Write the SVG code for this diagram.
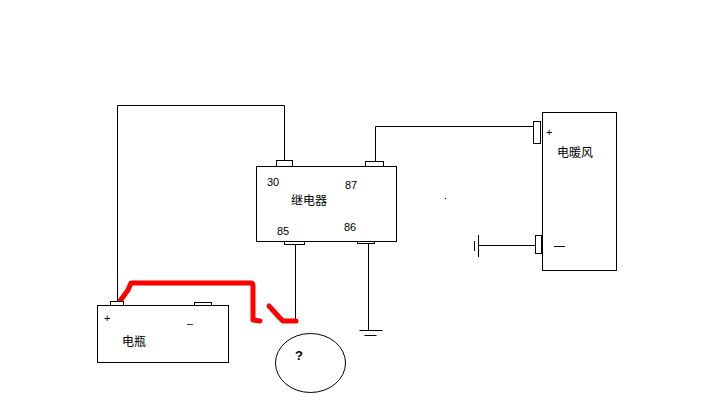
<svg xmlns="http://www.w3.org/2000/svg" width="717" height="418" viewBox="0 0 717 418">
<style>
.b{fill:#fff;stroke:#000;stroke-width:1}
.w{fill:none;stroke:#000;stroke-width:1}
.r{fill:none;stroke:#f00;stroke-width:5;stroke-linecap:round;stroke-linejoin:round}
text{font-family:"Liberation Sans","Noto Sans CJK SC",sans-serif;fill:#000}
.t{font-size:11px}
.c{font-size:12px;font-family:"Noto Sans CJK SC","Liberation Sans",sans-serif}
</style>
<rect width="717" height="418" fill="#fff"/>
<g id="connectors">
<path class="w" d="M117.500 302V105.500H284.500V160"/>
<path class="w" d="M375.500 161V126.500H533"/>
<path class="w" d="M295.500 245V321"/>
<path class="w" d="M368.500 243V330.500"/>
<path class="w" d="M359.500 330.500H382.500M364.500 335.500H376.500"/>
<path class="w" d="M535 245.500H478.500M478.500 235V257M474.500 241V251"/>
<path class="r" d="M120 301L128 290L131 283H251Q253 283 253 286V320L260 321"/>
<path class="r" d="M269 306L279 317L283 321H296"/>
</g>
<g id="battery">
<rect class="b" x="97.500" y="305.500" width="131" height="57"/>
<rect class="b" x="110.500" y="301.500" width="13" height="4"/>
<rect class="b" x="194.500" y="302.500" width="17" height="3"/>
<text class="t" x="104" y="322">+</text>
<text class="t" x="187" y="327">–</text>
<text class="c" x="122" y="346">电瓶</text>
</g>
<g id="relay">
<rect class="b" x="256.500" y="166.500" width="140" height="75"/>
<rect class="b" x="276.500" y="160.500" width="16" height="6"/>
<rect class="b" x="365.500" y="161.500" width="18" height="5"/>
<rect class="b" x="284.500" y="241.500" width="20" height="3"/>
<rect class="b" x="357.500" y="241.500" width="17" height="2"/>
<text class="t" x="267" y="186">30</text>
<text class="t" x="345" y="189">87</text>
<text class="t" x="277" y="235">85</text>
<text class="t" x="344" y="231">86</text>
<text class="c" x="291" y="205">继电器</text>
</g>
<g id="heater">
<rect class="b" x="542.500" y="112.500" width="74" height="158"/>
<rect class="b" x="533.500" y="121.500" width="7" height="22"/>
<rect class="b" x="535.500" y="235.500" width="6" height="18"/>
<text class="t" x="546" y="136">+</text>
<path class="w" d="M554 246.500H565"/>
<text class="c" x="557" y="157">电暖风</text>
</g>
<g id="unknown">
<ellipse class="b" cx="310.500" cy="363" rx="35" ry="29.500"/>
<text x="295" y="360" font-size="13" font-weight="bold">?</text>
</g>
<rect x="445" y="198" width="1" height="1" fill="#000"/>
</svg>
